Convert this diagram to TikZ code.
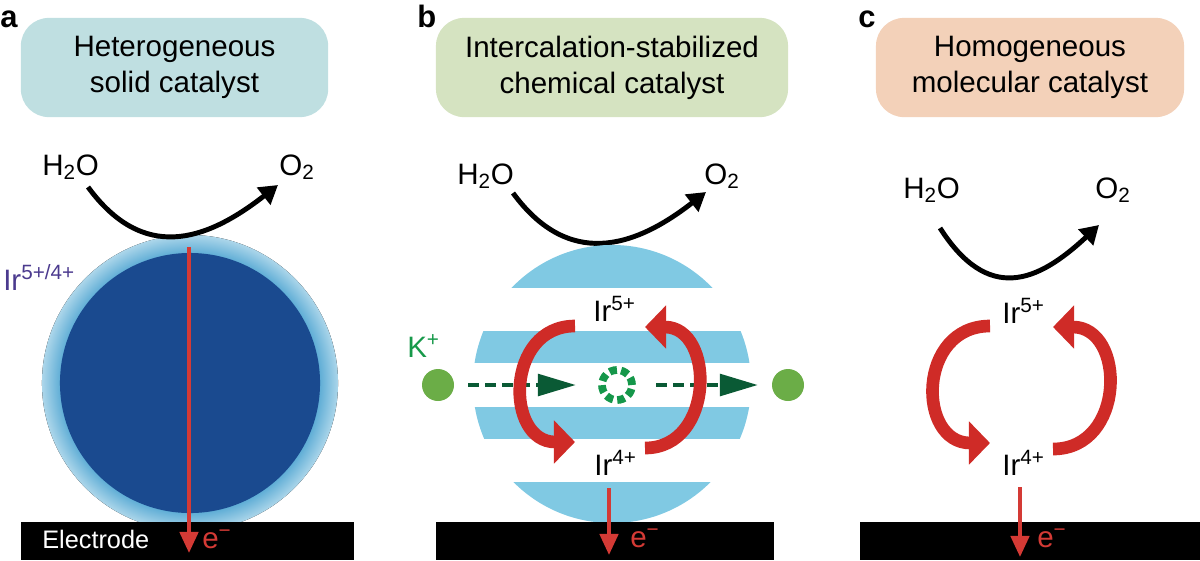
\documentclass[tikz,border=0pt]{standalone}
\usepackage{fontspec}
\setmainfont{Liberation Sans}
\usetikzlibrary{arrows.meta}

\definecolor{boxa}{HTML}{BFDFE1}
\definecolor{boxb}{HTML}{D5E3C1}
\definecolor{boxc}{HTML}{F3D1B9}
\definecolor{coreblue}{HTML}{1A4A8F}
\definecolor{haloin}{HTML}{55A8D3}
\definecolor{haloout}{HTML}{ACD6EA}
\definecolor{stripeblue}{HTML}{80C9E3}
\definecolor{ered}{HTML}{D43A35}
\definecolor{cyclered}{HTML}{CF2B27}
\definecolor{irpurple}{HTML}{4B3A8E}
\definecolor{ktext}{HTML}{17994A}
\definecolor{kball}{HTML}{6BAD47}
\definecolor{kdark}{HTML}{0A5A35}
\definecolor{vgreen}{HTML}{15974A}

\pgfdeclareradialshading{halo}{\pgfpoint{0bp}{0bp}}{color(0bp)=(haloin); color(21.5bp)=(haloin); color(25bp)=(haloout); color(50bp)=(haloout)}

\begin{document}
\begin{tikzpicture}[x=0.025cm, y=-0.025cm,
    plabel/.style={font=\fontsize{22}{26}\selectfont\bfseries, anchor=base west, inner sep=0pt},
    capbox/.style={rounded corners=0.7cm, minimum height=2.48cm, align=center,
      font=\fontsize{21}{25.5}\selectfont},
    chem/.style={font=\fontsize{21}{25}\selectfont, anchor=base west, inner sep=0pt},
    arcflow/.style={line width=3.5pt, -{Triangle[width=15pt,length=13pt]}},
    eflow/.style={draw=ered, line width=2.8pt, -{Triangle[width=13pt,length=15pt]}},
    redcycle/.style={draw=cyclered, line width=9pt, -{Triangle[width=30pt,length=15pt]}},
    kflow/.style={draw=kdark, line width=2.5pt, dash pattern=on 0.275cm off 0.15cm,
      -{Triangle[width=15.5pt,length=27pt]}},
    kion/.style={circle, fill=kball, minimum size=0.8cm, inner sep=0pt}]

  \useasboundingbox (0,0) rectangle (1200,560);

  % panel a
  \node[plabel] (la) at (0,27) {a};
  \node[capbox, fill=boxa, minimum width=7.68cm] (capa) at (174.5,67.5) {Heterogeneous\\solid catalyst};
  \node[chem] (h2oa) at (42,175) {H\textsubscript{2}O};
  \node[chem] (o2a) at (279,175) {O\textsubscript{2}};
  \coordinate (wa) at (88,187);
  \coordinate (oa) at (278,185);
  \fill[shading=halo] (190,383) circle (3.7cm);
  \fill[coreblue] (190,383) circle (3.25cm);
  \draw[arcflow] (wa) .. controls +(55,75) and +(-73,57) .. (oa);
  \node[chem, text=irpurple] (ira) at (3,290) {Ir\textsuperscript{5+/4+}};
  \fill[black] (21,522) rectangle (354,560);
  \node[chem, font=\fontsize{18}{22}\selectfont, text=white] (ela) at (42,548) {Electrode};
  \coordinate (ea1) at (189,247);
  \coordinate (ea2) at (189,553);
  \draw[eflow] (ea1) -- (ea2);
  \node[chem, text=ered] (ela2) at (202,548) {e\textsuperscript{−}};

  % panel b
  \node[plabel] (lb) at (417,27) {b};
  \node[capbox, fill=boxb, minimum width=8.8cm] (capb) at (612,67.5) {Intercalation-stabilized\\chemical catalyst};
  \node[chem] (h2ob) at (457,184) {H\textsubscript{2}O};
  \node[chem] (o2b) at (704,184) {O\textsubscript{2}};
  \coordinate (wb) at (513,193);
  \coordinate (ob) at (706,192);
  \draw[arcflow] (wb) .. controls +(55,75) and +(-73,57) .. (ob);
  \begin{scope}
    \clip (612,384) circle (3.475cm);
    \fill[stripeblue] (460,240) rectangle (770,288);
    \fill[stripeblue] (460,331) rectangle (770,363);
    \fill[stripeblue] (460,407) rectangle (770,439);
    \fill[stripeblue] (460,482) rectangle (770,530);
  \end{scope}
  \node[chem, text=ktext] (kp) at (407,357) {K\textsuperscript{+}};
  \node[kion] (kl) at (438,385) {};
  \node[kion] (kr) at (788,385) {};
  \node[circle, draw=vgreen, line width=5.5pt, minimum size=0.75cm, inner sep=0pt,
    dash pattern=on 0.19cm off 0.105cm] (vac) at (617,385) {};
  \draw[kflow, shorten <=0.35cm, shorten >=0.56cm] (kl) -- (vac);
  \draw[kflow, shorten <=0.51cm, shorten >=0.35cm] (vac) -- (kr);
  \node[chem] (ir5b) at (593,321) {Ir\textsuperscript{5+}};
  \node[chem] (ir4b) at (594,475) {Ir\textsuperscript{4+}};
  \coordinate (b5l) at (575,326);
  \coordinate (b4l) at (575,442);
  \coordinate (b4r) at (645,448);
  \coordinate (b5r) at (645,327);
  \draw[redcycle] (b5l) .. controls +(-70,0) and +(-70,0) .. (b4l);
  \draw[redcycle] (b4r) .. controls +(70,0) and +(70,0) .. (b5r);
  \fill[black] (436,522) rectangle (774,560);
  \coordinate (eb1) at (609,488);
  \coordinate (eb2) at (609,555);
  \draw[eflow] (eb1) -- (eb2);
  \node[chem, text=ered] (elb) at (630,547) {e\textsuperscript{−}};

  % panel c
  \node[plabel] (lc) at (858,27) {c};
  \node[capbox, fill=boxc, minimum width=7.7cm] (capc) at (1030,67.5) {Homogeneous\\molecular catalyst};
  \node[chem] (h2oc) at (903,198) {H\textsubscript{2}O};
  \node[chem] (o2c) at (1095,198) {O\textsubscript{2}};
  \coordinate (wc) at (940,228);
  \coordinate (oc) at (1099,225);
  \draw[arcflow] (wc) .. controls +(48,75) and +(-62,58) .. (oc);
  \node[chem] (ir5c) at (1002,323) {Ir\textsuperscript{5+}};
  \node[chem] (ir4c) at (1002,475) {Ir\textsuperscript{4+}};
  \coordinate (c5l) at (990,326);
  \coordinate (c4l) at (990,443);
  \coordinate (c4r) at (1053,449);
  \coordinate (c5r) at (1053,327);
  \draw[redcycle] (c5l) .. controls +(-73,0) and +(-73,0) .. (c4l);
  \draw[redcycle] (c4r) .. controls +(73,0) and +(73,0) .. (c5r);
  \fill[black] (860,522) rectangle (1200,560);
  \coordinate (ec1) at (1020,487);
  \coordinate (ec2) at (1020,557);
  \draw[eflow] (ec1) -- (ec2);
  \node[chem, text=ered] (elc) at (1037,547) {e\textsuperscript{−}};
\end{tikzpicture}
\end{document}
